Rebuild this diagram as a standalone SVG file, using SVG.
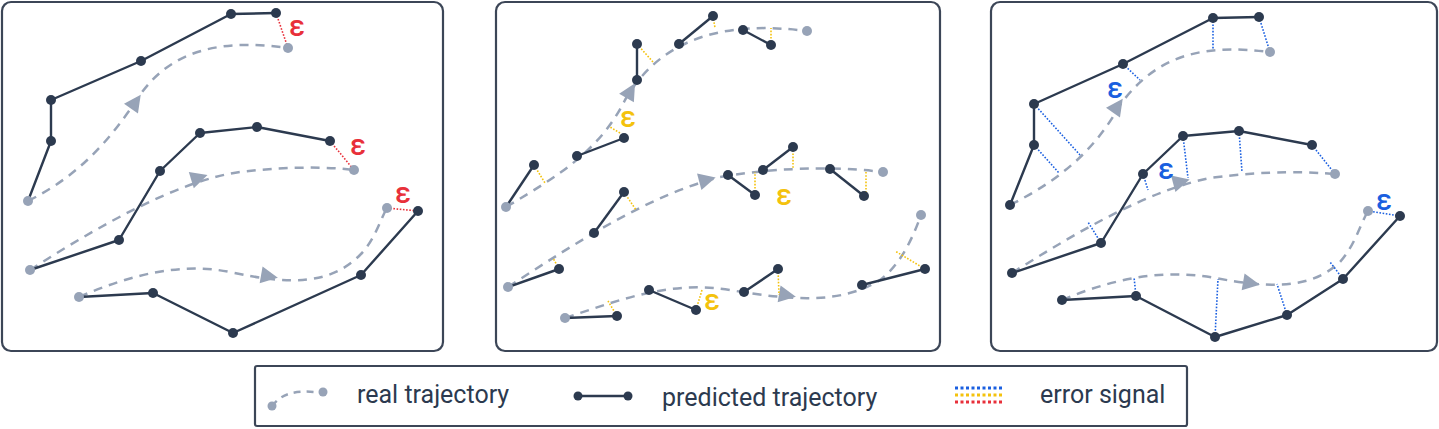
<svg xmlns="http://www.w3.org/2000/svg" xmlns:xlink="http://www.w3.org/1999/xlink" width="1439" height="429" viewBox="0 0 1439 429">
<style>
.box{fill:#fff;stroke:#3c4657;stroke-width:2.2}
.real{fill:none;stroke:#97a3b7;stroke-width:2.5;stroke-dasharray:9 7}
.pred{fill:none;stroke:#2c3a4f;stroke-width:2.4;stroke-linejoin:round}
.er{stroke:#e8303a;stroke-width:1.6;stroke-dasharray:1.6 1.6;fill:none}
.ey{stroke:#f4c20d;stroke-width:1.6;stroke-dasharray:1.6 1.6;fill:none}
.eb{stroke:#1a5fe0;stroke-width:1.6;stroke-dasharray:1.6 1.6;fill:none}
.eps{font-family:Roboto,"Liberation Sans",sans-serif;font-size:29px;font-weight:500}
.lg{font-family:Roboto,"Liberation Sans",sans-serif;font-size:25px;fill:#2c3a4f}
.le{stroke-width:3;stroke-dasharray:3 2.5}
</style>
<defs>
<polygon id="arr" points="10,0 -7,-8.5 -7,8.5" fill="#97a3b7"/>
<circle id="d" r="5" fill="#2c3a4f"/>
<circle id="g" r="5" fill="#97a3b7"/>
</defs>
<g id="panel1">
<rect class="box" x="2" y="2" width="441" height="349" rx="9"/>
<g id="p1-connectors">
<path class="real" d="M28,201 C80,175 110,140 140,95 C175,45 230,40 288,48"/>
<path class="real" d="M30,270 C100,225 180,180 240,172 C290,166 330,167 354,170"/>
<path class="real" d="M79,297 C130,275 180,262 230,272 C290,285 330,285 360,255 C375,240 380,220 387,208"/>
<use href="#arr" transform="translate(135,103) rotate(-55)"/>
<use href="#arr" transform="translate(198,178) rotate(-17)"/>
<use href="#arr" transform="translate(268,276) rotate(10)"/>
<polyline class="pred" points="28,201 51,141 51,100 141,61 231,14 276,13"/>
<polyline class="pred" points="30,270 119,240 160,171 200,133 257,127 330,141"/>
<polyline class="pred" points="79,297 153,293 233,333 361,275 418,211"/>
<line class="er" x1="276" y1="13" x2="288" y2="48"/>
<line class="er" x1="330" y1="141" x2="354" y2="170"/>
<line class="er" x1="387" y1="208" x2="418" y2="211"/>
</g>
<g id="p1-dots">
<use href="#d" x="51" y="141"/><use href="#d" x="51" y="100"/><use href="#d" x="141" y="61"/><use href="#d" x="231" y="14"/><use href="#d" x="276" y="13"/>
<use href="#d" x="119" y="240"/><use href="#d" x="160" y="171"/><use href="#d" x="200" y="133"/><use href="#d" x="257" y="127"/><use href="#d" x="330" y="141"/>
<use href="#d" x="153" y="293"/><use href="#d" x="233" y="333"/><use href="#d" x="361" y="275"/><use href="#d" x="418" y="211"/>
<use href="#g" x="28" y="201"/><use href="#g" x="288" y="48"/><use href="#g" x="30" y="270"/><use href="#g" x="354" y="170"/><use href="#g" x="79" y="297"/><use href="#g" x="387" y="208"/>
</g>
<text class="eps" fill="#e8303a" x="289" y="36">ε</text>
<text class="eps" fill="#e8303a" x="350" y="155">ε</text>
<text class="eps" fill="#e8303a" x="395" y="203">ε</text>
</g>
<g id="panel2">
<rect class="box" x="496" y="2" width="444" height="349" rx="9"/>
<g id="p2-connectors">
<path class="real" d="M506,207 C560,175 600,150 625,100 C660,40 720,20 807,31"/>
<path class="real" d="M508,287 C580,240 650,195 720,177 C790,165 850,168 883,172"/>
<path class="real" d="M565,318 C620,300 670,280 730,290 C790,300 840,305 880,280 C900,265 912,240 921,215"/>
<use href="#arr" transform="translate(630,92) rotate(-60)"/>
<use href="#arr" transform="translate(706,180) rotate(-15)"/>
<use href="#arr" transform="translate(786,295) rotate(10)"/>
<polyline class="pred" points="506,207 534,165"/>
<polyline class="pred" points="577,156 624,138"/>
<polyline class="pred" points="637,44 637,80"/>
<polyline class="pred" points="679,44 713,16"/>
<polyline class="pred" points="743,30 771,45"/>
<polyline class="pred" points="508,287 559,269"/>
<polyline class="pred" points="594,233 624,192"/>
<polyline class="pred" points="728,175 755,195"/>
<polyline class="pred" points="763,170 793,147"/>
<polyline class="pred" points="830,169 864,196"/>
<polyline class="pred" points="565,318 617,316"/>
<polyline class="pred" points="649,290 696,310"/>
<polyline class="pred" points="744,292 778,269"/>
<polyline class="pred" points="862,285 925,269"/>
<line class="ey" x1="534" y1="165" x2="545" y2="183"/>
<line class="ey" x1="620" y1="133" x2="610" y2="127"/>
<line class="ey" x1="637" y1="44" x2="653" y2="62"/>
<line class="ey" x1="713" y1="16" x2="715" y2="28"/>
<line class="ey" x1="771" y1="45" x2="771" y2="28"/>
<line class="ey" x1="559" y1="269" x2="553" y2="258"/>
<line class="ey" x1="624" y1="192" x2="636" y2="210"/>
<line class="ey" x1="755" y1="195" x2="755" y2="172"/>
<line class="ey" x1="793" y1="147" x2="793" y2="168"/>
<line class="ey" x1="866" y1="196" x2="866" y2="171"/>
<line class="ey" x1="617" y1="316" x2="608" y2="301"/>
<line class="ey" x1="696" y1="310" x2="702" y2="290"/>
<line class="ey" x1="778" y1="269" x2="779" y2="295"/>
<line class="ey" x1="925" y1="269" x2="895" y2="251"/>
</g>
<g id="p2-dots">
<use href="#d" x="534" y="165"/><use href="#d" x="577" y="156"/><use href="#d" x="624" y="138"/><use href="#d" x="637" y="44"/><use href="#d" x="637" y="80"/><use href="#d" x="679" y="44"/><use href="#d" x="713" y="16"/><use href="#d" x="743" y="30"/><use href="#d" x="771" y="45"/>
<use href="#d" x="559" y="269"/><use href="#d" x="594" y="233"/><use href="#d" x="624" y="192"/><use href="#d" x="728" y="175"/><use href="#d" x="755" y="195"/><use href="#d" x="763" y="170"/><use href="#d" x="793" y="147"/><use href="#d" x="830" y="169"/><use href="#d" x="864" y="196"/>
<use href="#d" x="617" y="316"/><use href="#d" x="649" y="290"/><use href="#d" x="696" y="310"/><use href="#d" x="744" y="292"/><use href="#d" x="778" y="269"/><use href="#d" x="862" y="285"/><use href="#d" x="925" y="269"/>
<use href="#g" x="506" y="207"/><use href="#g" x="807" y="31"/><use href="#g" x="508" y="287"/><use href="#g" x="883" y="172"/><use href="#g" x="565" y="318"/><use href="#g" x="921" y="215"/>
</g>
<text class="eps" fill="#f4c20d" x="620" y="127">ε</text>
<text class="eps" fill="#f4c20d" x="776" y="205">ε</text>
<text class="eps" fill="#f4c20d" x="704" y="310">ε</text>
</g>
<g id="panel3">
<rect class="box" x="991" y="2" width="446" height="349" rx="9"/>
<g id="p3-connectors">
<path class="real" d="M1010,205 C1060,180 1095,150 1120,105 C1160,50 1210,45 1270,52"/>
<path class="real" d="M1012,273 C1080,230 1150,190 1210,178 C1270,170 1310,172 1335,174"/>
<path class="real" d="M1062,300 C1110,280 1160,268 1215,278 C1270,288 1310,290 1340,262 C1355,245 1360,225 1368,211"/>
<use href="#arr" transform="translate(1117,107) rotate(-55)"/>
<use href="#arr" transform="translate(1180,182) rotate(-15)"/>
<use href="#arr" transform="translate(1250,283) rotate(10)"/>
<polyline class="pred" points="1010,205 1034,145 1034,104 1123,64 1213,18 1259,17"/>
<polyline class="pred" points="1012,273 1101,243 1143,174 1183,136 1239,131 1312,145"/>
<polyline class="pred" points="1062,300 1136,296 1215,337 1287,315 1343,279 1400,216"/>
<line class="eb" x1="1034" y1="145" x2="1059" y2="173"/>
<line class="eb" x1="1034" y1="104" x2="1080" y2="155"/>
<line class="eb" x1="1123" y1="64" x2="1140" y2="80"/>
<line class="eb" x1="1213" y1="18" x2="1213" y2="49"/>
<line class="eb" x1="1259" y1="17" x2="1270" y2="52"/>
<line class="eb" x1="1101" y1="243" x2="1088" y2="222"/>
<line class="eb" x1="1143" y1="174" x2="1148" y2="190"/>
<line class="eb" x1="1183" y1="136" x2="1188" y2="178"/>
<line class="eb" x1="1239" y1="131" x2="1242" y2="172"/>
<line class="eb" x1="1312" y1="145" x2="1335" y2="174"/>
<line class="eb" x1="1136" y1="296" x2="1134" y2="277"/>
<line class="eb" x1="1215" y1="337" x2="1218" y2="279"/>
<line class="eb" x1="1287" y1="315" x2="1277" y2="284"/>
<line class="eb" x1="1343" y1="279" x2="1330" y2="262"/>
<line class="eb" x1="1400" y1="216" x2="1368" y2="211"/>
</g>
<g id="p3-dots">
<use href="#d" x="1010" y="205"/><use href="#d" x="1034" y="145"/><use href="#d" x="1034" y="104"/><use href="#d" x="1123" y="64"/><use href="#d" x="1213" y="18"/><use href="#d" x="1259" y="17"/>
<use href="#d" x="1012" y="273"/><use href="#d" x="1101" y="243"/><use href="#d" x="1143" y="174"/><use href="#d" x="1183" y="136"/><use href="#d" x="1239" y="131"/><use href="#d" x="1312" y="145"/>
<use href="#d" x="1062" y="300"/><use href="#d" x="1136" y="296"/><use href="#d" x="1215" y="337"/><use href="#d" x="1287" y="315"/><use href="#d" x="1343" y="279"/><use href="#d" x="1400" y="216"/>
<use href="#g" x="1270" y="52"/><use href="#g" x="1335" y="174"/><use href="#g" x="1368" y="211"/>
</g>
<text class="eps" fill="#1a5fe0" x="1107" y="98">ε</text>
<text class="eps" fill="#1a5fe0" x="1158" y="179">ε</text>
<text class="eps" fill="#1a5fe0" x="1376" y="210">ε</text>
</g>
<g id="legend">
<rect class="box" x="255" y="366" width="932" height="60" rx="2"/>
<path d="M272,406 C280,396 290,390 315,392" fill="none" stroke="#97a3b7" stroke-width="2.5" stroke-dasharray="7 6"/>
<circle cx="272" cy="406" r="4.5" fill="#97a3b7"/><circle cx="323" cy="392" r="4.5" fill="#97a3b7"/>
<text class="lg" x="357" y="403">real trajectory</text>
<line x1="578" y1="396" x2="628" y2="396" stroke="#2c3a4f" stroke-width="2.4"/>
<circle cx="578" cy="396" r="4.5" fill="#2c3a4f"/><circle cx="628" cy="396" r="4.5" fill="#2c3a4f"/>
<text class="lg" x="662" y="406">predicted trajectory</text>
<line class="eb le" x1="955" y1="388" x2="1002" y2="388"/>
<line class="ey le" x1="955" y1="395" x2="1002" y2="395"/>
<line class="er le" x1="955" y1="402" x2="1002" y2="402"/>
<text class="lg" x="1040" y="403">error signal</text>
</g>
</svg>
